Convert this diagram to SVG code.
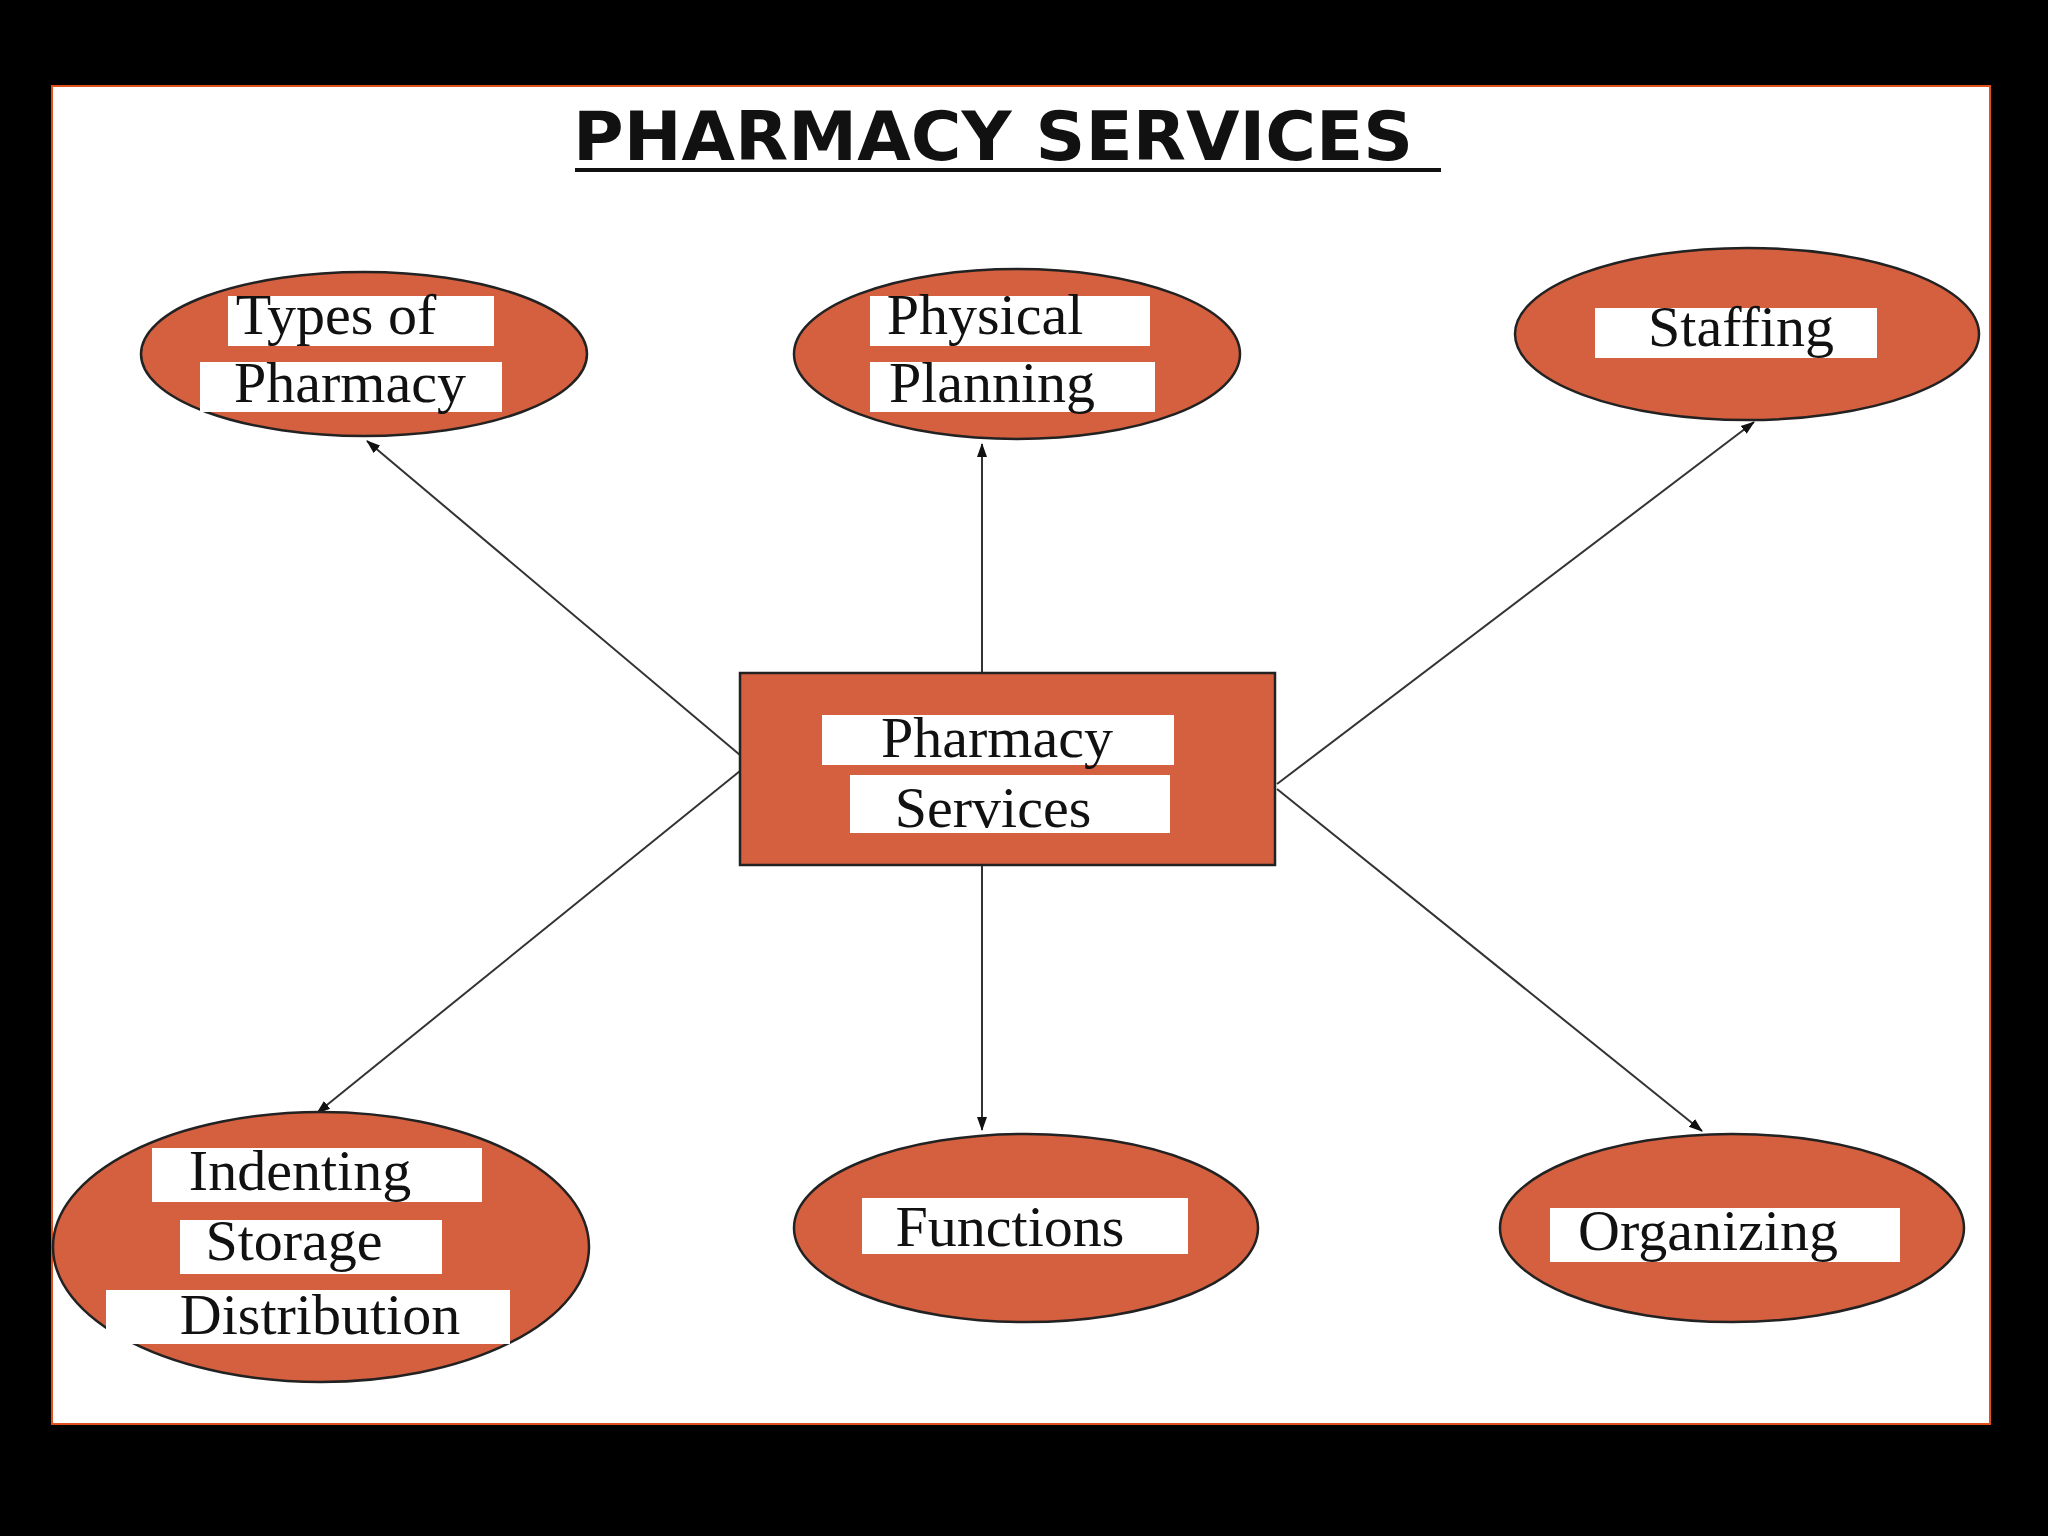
<svg xmlns="http://www.w3.org/2000/svg" width="2048" height="1536" viewBox="0 0 2048 1536">
<defs>
<style>
.n{fill:#d4603f;stroke:#222;stroke-width:2.5}
.p{fill:#fff}
.t{font-family:"Liberation Serif",serif;font-size:58px;fill:#111;text-anchor:middle}
.c{stroke:#333;stroke-width:2;fill:none;marker-end:url(#a)}
</style>
<marker id="a" markerWidth="14" markerHeight="12" refX="13" refY="6" orient="auto" markerUnits="userSpaceOnUse"><path d="M0,1 L14,6 L0,11 Z" fill="#111"/></marker>
</defs>
<rect width="2048" height="1536" fill="#000"/>
<rect x="52" y="86" width="1938" height="1338" fill="#fff" stroke="#e0501f" stroke-width="2"/>
<text x="993" y="160" font-family="'DejaVu Sans',sans-serif" font-weight="bold" font-size="68" text-anchor="middle" fill="#111" textLength="840" lengthAdjust="spacingAndGlyphs">PHARMACY SERVICES</text>
<line x1="575" y1="170" x2="1441" y2="170" stroke="#111" stroke-width="4"/>
<g id="connectors">
<line class="c" x1="982" y1="673" x2="982" y2="444"/>
<line class="c" x1="982" y1="865" x2="982" y2="1130"/>
<line class="c" x1="740" y1="755" x2="367" y2="441"/>
<line class="c" x1="1277" y1="784" x2="1754" y2="422"/>
<line class="c" x1="740" y1="771" x2="317" y2="1113"/>
<line class="c" x1="1277" y1="789" x2="1702" y2="1131"/>
</g>
<g id="center"><rect class="n" x="740" y="673" width="535" height="192"/>
<rect class="p" x="822" y="715" width="352" height="50"/><rect class="p" x="850" y="775" width="320" height="58"/>
<text class="t" x="997" y="757">Pharmacy</text><text class="t" x="993" y="827">Services</text></g>
<g id="types"><ellipse class="n" cx="364" cy="354" rx="223" ry="82"/>
<rect class="p" x="228" y="296" width="266" height="50"/><rect class="p" x="200" y="362" width="302" height="50"/>
<text class="t" x="336" y="334">Types of</text><text class="t" x="350" y="402">Pharmacy</text></g>
<g id="physical"><ellipse class="n" cx="1017" cy="354" rx="223" ry="85"/>
<rect class="p" x="870" y="296" width="280" height="50"/><rect class="p" x="870" y="362" width="285" height="50"/>
<text class="t" x="985" y="334">Physical</text><text class="t" x="992" y="402">Planning</text></g>
<g id="staffing"><ellipse class="n" cx="1747" cy="334" rx="232" ry="86"/>
<rect class="p" x="1595" y="308" width="282" height="50"/>
<text class="t" x="1741" y="346">Staffing</text></g>
<g id="indenting"><ellipse class="n" cx="321" cy="1247" rx="268" ry="135"/>
<rect class="p" x="152" y="1148" width="330" height="54"/><rect class="p" x="180" y="1220" width="262" height="54"/><rect class="p" x="106" y="1290" width="404" height="54"/>
<text class="t" x="300" y="1190">Indenting</text><text class="t" x="294" y="1260">Storage</text><text class="t" x="320" y="1334">Distribution</text></g>
<g id="functions"><ellipse class="n" cx="1026" cy="1228" rx="232" ry="94"/>
<rect class="p" x="862" y="1198" width="326" height="56"/>
<text class="t" x="1010" y="1246">Functions</text></g>
<g id="organizing"><ellipse class="n" cx="1732" cy="1228" rx="232" ry="94"/>
<rect class="p" x="1550" y="1208" width="350" height="54"/>
<text class="t" x="1708" y="1250">Organizing</text></g>
</svg>
